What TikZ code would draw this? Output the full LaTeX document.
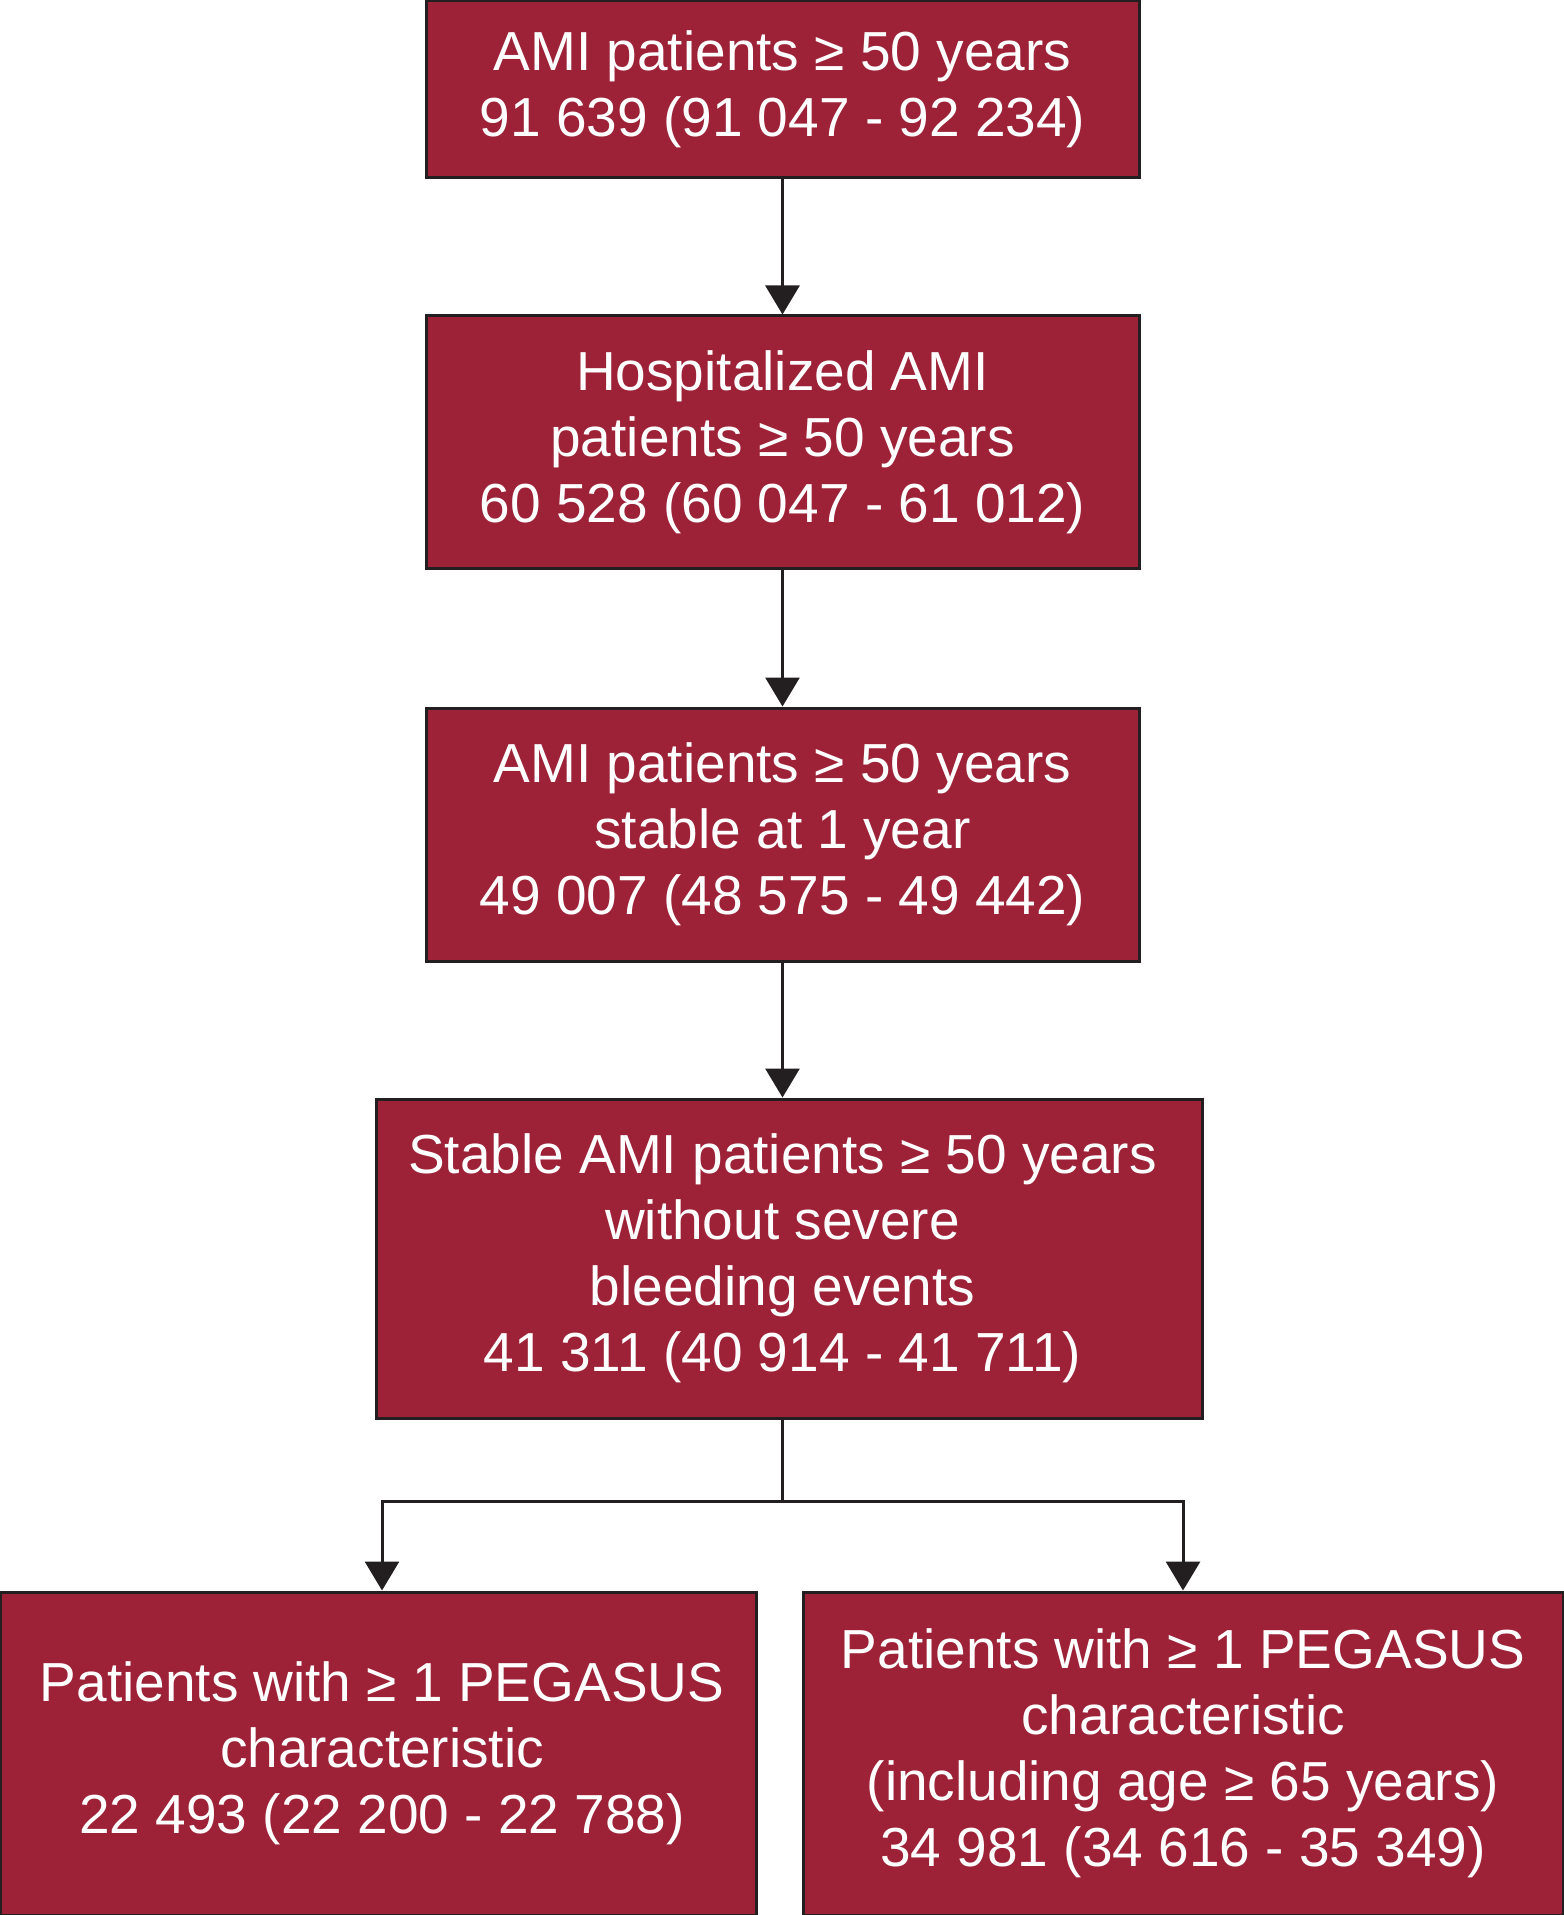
\documentclass[tikz,border=0pt]{standalone}
\usepackage{fontspec}
\setmainfont{Liberation Sans}
\usetikzlibrary{arrows.meta}
\definecolor{boxred}{RGB}{157,34,56}
\definecolor{edgeblk}{RGB}{35,31,32}
\begin{document}
\begin{tikzpicture}[x=0.5pt,y=-0.5pt,
  boxtext/.style={text=white, align=center, inner sep=0pt,
    font=\fontsize{27.5pt}{33pt}\selectfont},
  flowbox/.style={draw=edgeblk, line width=1.5pt, fill=boxred, boxtext, anchor=center},
  conn/.style={draw=edgeblk, line width=1.5pt},
  arr/.style={conn, -{Triangle[width=17pt,length=14.5pt]}}]
\useasboundingbox (0,0) rectangle (1563,1915);
\node[flowbox, minimum width=356.5pt, minimum height=88.5pt] (b1) at (782.5,89.5)
  {AMI patients ≥ 50 years\\91 639 (91 047 - 92 234)};
\node[flowbox, minimum width=356.5pt, minimum height=126pt] (b2) at (782.5,442)
  {Hospitalized AMI\\patients ≥ 50 years\\60 528 (60 047 - 61 012)};
\node[flowbox, minimum width=356.5pt, minimum height=126.5pt] (b3) at (782.5,834.5)
  {AMI patients ≥ 50 years\\stable at 1 year\\49 007 (48 575 - 49 442)};
\node[flowbox, minimum width=413pt, minimum height=159.5pt,
  label={[boxtext, xshift=-3.25pt]center:Stable AMI patients ≥ 50 years\\without severe\\bleeding events\\41 311 (40 914 - 41 711)}]
  (b4) at (789,1258.5) {};
\node[flowbox, minimum width=378pt, minimum height=161.5pt,
  label={[boxtext, xshift=2pt]center:Patients with ≥ 1 PEGASUS\\characteristic\\22 493 (22 200 - 22 788)}]
  (b5) at (378,1753.5) {};
\node[flowbox, minimum width=380pt, minimum height=161.5pt] (b6) at (1183,1753.5)
  {Patients with ≥ 1 PEGASUS\\characteristic\\(including age ≥ 65 years)\\34 981 (34 616 - 35 349)};
\coordinate (split) at (782.5,1501);
\draw[arr] (b1.south) -- (b2.north);
\draw[arr] (b2.south) -- (b3.north);
\draw[arr] (b3.south) -- (b3.south |- b4.north);
\draw[conn] (b3.south |- b4.south) -- (split);
\draw[arr] (split) -| ([xshift=2pt]b5.north);
\draw[arr] (split) -| (b6.north);
\end{tikzpicture}
\end{document}
